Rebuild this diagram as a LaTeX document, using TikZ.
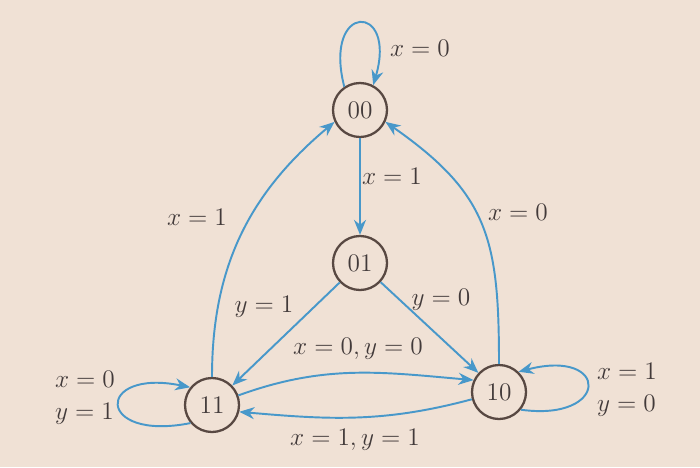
\documentclass[tikz,border=0pt]{standalone}
\usetikzlibrary{arrows.meta}
\definecolor{fond}{RGB}{240,225,213}
\definecolor{bleu}{RGB}{72,152,202}
\definecolor{brun}{RGB}{88,72,66}
\definecolor{encre}{RGB}{66,58,58}

\begin{document}
\begin{tikzpicture}
\tikzset{etat/.style={draw=brun, line width=1.3pt, circle, minimum size=1.08cm, inner sep=0pt, text=encre, font=\Large},
fleche/.style={draw=bleu, line width=1.1pt, -{Stealth[length=3mm,width=2.4mm]}},
etiq/.style={text=encre, font=\Large, inner sep=1pt}}
\fill[fond] (0, 0) rectangle (14, 9.34);
\useasboundingbox (0, 0) rectangle (14, 9.34);
\node[etat] (E00) at (7.2, 7.14) {00};
\node[etat] (E01) at (7.2, 4.08) {01};
\node[etat] (E11) at (4.24, 1.24) {11};
\node[etat] (E10) at (9.98, 1.5) {10};
\draw[fleche] (E00.124) .. controls (6.45, 9.3) and (7.95, 9.3) .. (E00.62);
\draw[fleche] (E00) -- (E01);
\draw[fleche] (E01) -- (E11);
\draw[fleche] (E01) -- (E10);
\draw[fleche] (E11.north) to[out=90, in=220] (E00.205);
\draw[fleche] (E10.north) to[out=90, in=325, looseness=1.2] (E00.335);
\draw[fleche] (E11.20) to[out=20, in=175] (E10.155);
\draw[fleche] (E10.195) to[out=195, in=355] (E11.346);
\draw[fleche] (E11.220) .. controls (1.9, 0.5) and (1.9, 1.98) .. (E11.141);
\draw[fleche] (E10.321) .. controls (12.2, 0.9) and (12.2, 2.38) .. (E10.46);
\node[etiq] (L1) at (8.4, 8.38) {$x = 0$};
\node[etiq] (L2) at (7.84, 5.82) {$x = 1$};
\node[etiq] (L3) at (3.94, 5.0) {$x = 1$};
\node[etiq] (L4) at (10.36, 5.1) {$x = 0$};
\node[etiq] (L5) at (5.28, 3.2) {$y = 1$};
\node[etiq] (L6) at (8.82, 3.34) {$y = 0$};
\node[etiq] (L7) at (7.16, 2.36) {$x = 0, y = 0$};
\node[etiq] (L8) at (7.1, 0.54) {$x = 1, y = 1$};
\node[etiq, align=left] (L9) at (1.7, 1.38) {$x = 0$\\$y = 1$};
\node[etiq, align=left] (L10) at (12.54, 1.54) {$x = 1$\\$y = 0$};
\end{tikzpicture}
\end{document}
